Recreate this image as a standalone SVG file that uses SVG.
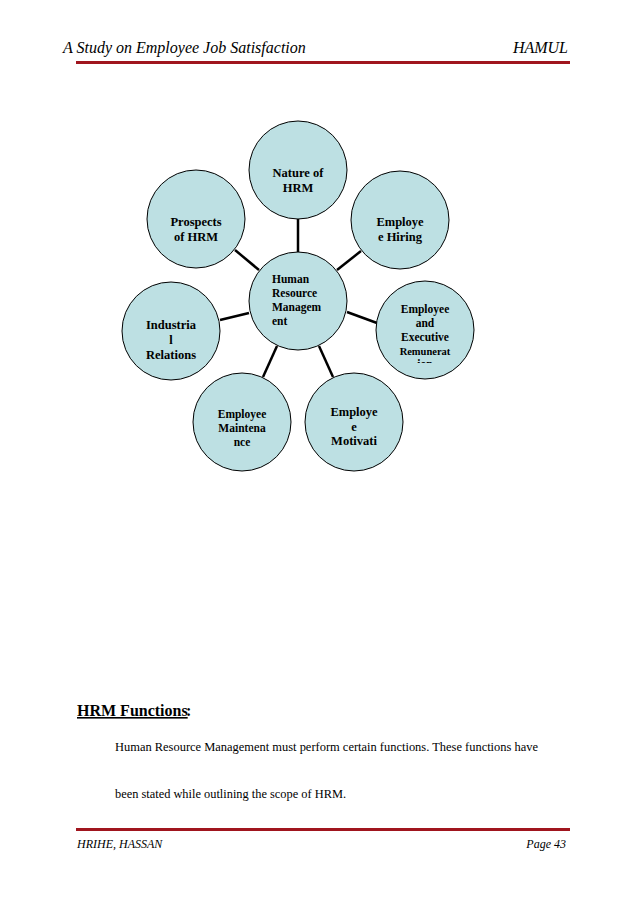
<svg xmlns="http://www.w3.org/2000/svg" width="638" height="903" viewBox="0 0 638 903">
<style>
.n{fill:#bde0e3;stroke:#000;stroke-width:1}
.t{font-family:"Liberation Serif","Times New Roman",serif;font-weight:bold;font-size:12.5px;text-anchor:middle;fill:#000}
.l{text-anchor:start}
.s{font-size:11.5px}
.c line{stroke:#000;stroke-width:2.5}
.h{font-family:"Liberation Serif","Times New Roman",serif;font-style:italic;fill:#000}
.b{font-family:"Liberation Serif","Times New Roman",serif;font-size:13px;fill:#000}
</style>
<defs><clipPath id="cl"><rect x="370" y="290" width="110" height="73"/></clipPath></defs>
<rect width="638" height="903" fill="#fff"/>
<text class="h" x="63" y="53" font-size="16">A Study on Employee Job Satisfaction</text>
<text class="h" x="568" y="53" font-size="16" text-anchor="end">HAMUL</text>
<rect x="76" y="61" width="494" height="3" fill="#a0151e"/>
<g class="c">
<line x1="298" y1="219" x2="298" y2="252"/>
<line x1="259" y1="270" x2="235" y2="250"/>
<line x1="337" y1="270" x2="361" y2="251"/>
<line x1="347" y1="312" x2="377" y2="323"/>
<line x1="249" y1="313" x2="220" y2="320"/>
<line x1="277" y1="346" x2="263" y2="377"/>
<line x1="319" y1="346" x2="333" y2="377"/>
</g>
<g id="center"><circle class="n" cx="298" cy="301" r="49"/>
<text class="t s l" x="272" y="283">Human</text><text class="t s l" x="272" y="297">Resource</text><text class="t s l" x="272" y="311">Managem</text><text class="t s l" x="272" y="325">ent</text></g>
<g id="nature"><circle class="n" cx="298" cy="170" r="49"/><text class="t" x="298" y="177">Nature of</text><text class="t" x="298" y="192">HRM</text></g>
<g id="prospects"><circle class="n" cx="196" cy="219" r="49"/><text class="t" x="196" y="226">Prospects</text><text class="t" x="196" y="241">of HRM</text></g>
<g id="hiring"><circle class="n" cx="400" cy="220" r="49"/><text class="t" x="400" y="226">Employe</text><text class="t" x="400" y="241">e Hiring</text></g>
<g id="remun"><circle class="n" cx="425" cy="330" r="49"/><g clip-path="url(#cl)"><text class="t s" x="425" y="313">Employee</text><text class="t s" x="425" y="327">and</text><text class="t s" x="425" y="341">Executive</text><text class="t s" x="425" y="355" style="font-size:10.5px">Remunerat</text><text class="t s" x="425" y="368">ion</text></g></g>
<g id="industrial"><circle class="n" cx="171" cy="331" r="49"/><text class="t" x="171" y="329">Industria</text><text class="t" x="171" y="344">l</text><text class="t" x="171" y="359">Relations</text></g>
<g id="maint"><circle class="n" cx="242" cy="422" r="49"/><text class="t s" x="242" y="418">Employee</text><text class="t s" x="242" y="432">Maintena</text><text class="t s" x="242" y="446">nce</text></g>
<g id="motiv"><circle class="n" cx="354" cy="422" r="49"/><text class="t" x="354" y="416">Employe</text><text class="t" x="354" y="431">e</text><text class="t" x="354" y="445">Motivati</text></g>
<text x="77" y="716" font-family="'Liberation Serif',serif" font-weight="bold" font-size="16" text-decoration="underline">HRM Functions</text>
<text x="186" y="716" font-family="'Liberation Serif',serif" font-weight="bold" font-size="16">:</text>
<text class="b" x="115" y="751" textLength="423" lengthAdjust="spacingAndGlyphs">Human Resource Management must perform certain functions. These functions have</text>
<text class="b" x="115" y="798" textLength="231" lengthAdjust="spacingAndGlyphs">been stated while outlining the scope of HRM.</text>
<rect x="76" y="828" width="494" height="3" fill="#a0151e"/>
<text class="h" x="77" y="848" font-size="12">HRIHE, HASSAN</text>
<text class="h" x="566" y="848" font-size="12" text-anchor="end">Page 43</text>
</svg>
